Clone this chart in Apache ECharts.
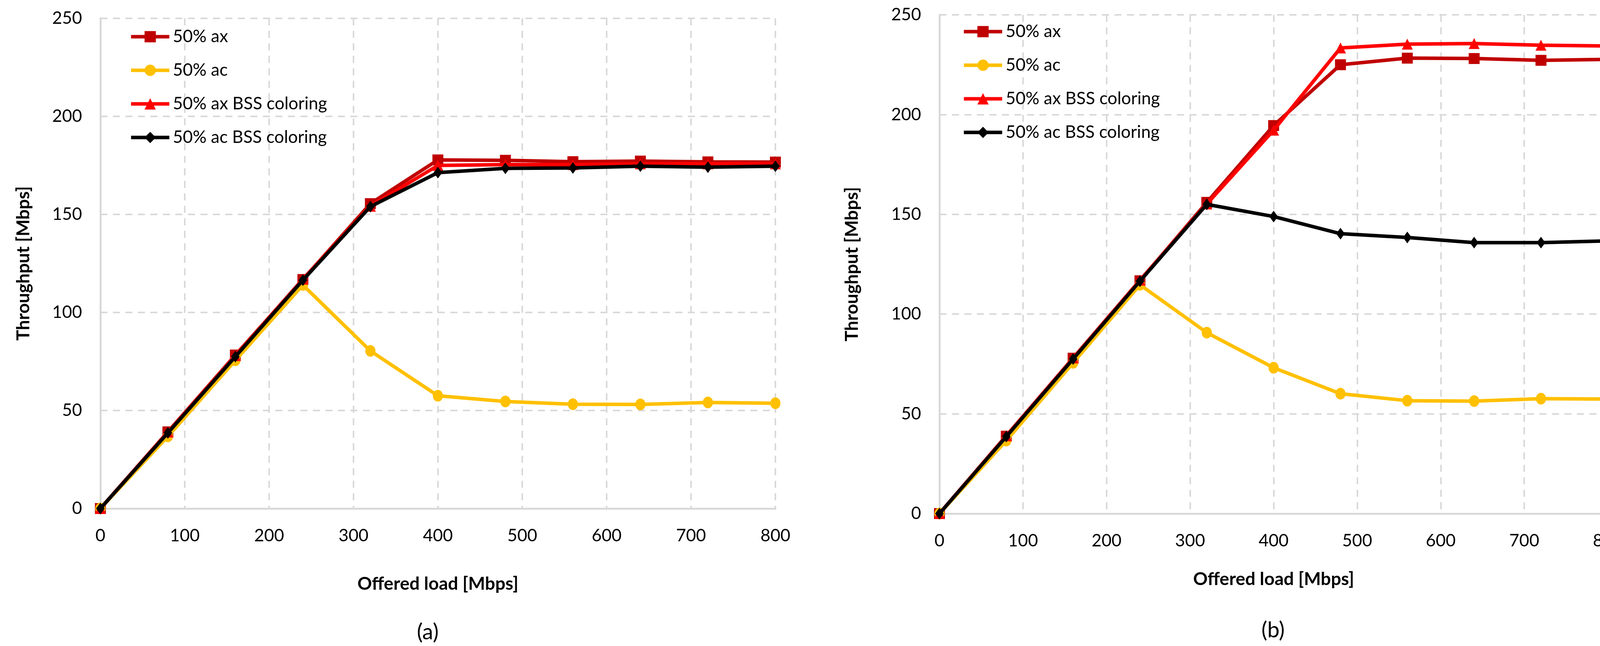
<!DOCTYPE html>
<html>
<head>
<meta charset="utf-8">
<script src="https://cdn.jsdelivr.net/npm/echarts@6/dist/echarts.min.js"></script>
<style>
html,body{margin:0;padding:0;background:#fff;}
#c{width:4194px;height:1654px;}
</style>
</head>
<body>
<div id="c"></div>
<script>
// ---- data ----
const offeredLoad = [0, 80, 160, 240, 320, 400, 480, 560, 640, 720, 800];
const seriesNames = ['50% ax', '50% ac', '50% ax BSS coloring', '50% ac BSS coloring'];
const xTicks = [0, 100, 200, 300, 400, 500, 600, 700, 800];
const yTicks = [0, 50, 100, 150, 200, 250];

// (a)
const a_ax     = [0, 39.1, 78.3, 116.8, 155.5, 177.8, 177.6, 176.9, 177.2, 176.8, 176.7];
const a_ac     = [0, 36.8, 75.6, 114.0, 80.4, 57.5, 54.6, 53.2, 53.1, 54.1, 53.7];
const a_axBSS  = [0, 39.0, 78.0, 117.0, 154.2, 175.0, 175.4, 175.4, 175.8, 175.8, 175.8];
const a_acBSS  = [0, 38.6, 77.5, 116.5, 154.0, 171.3, 173.5, 173.7, 174.6, 174.1, 174.6];
// (b)
const b_ax     = [0, 38.8, 77.9, 116.7, 156.0, 194.5, 225.0, 228.3, 228.1, 227.2, 227.7];
const b_ac     = [0, 36.6, 75.6, 114.7, 90.7, 73.1, 60.1, 56.6, 56.4, 57.6, 57.4];
const b_axBSS  = [0, 39.0, 78.0, 117.0, 155.2, 192.2, 233.4, 235.3, 235.6, 234.8, 234.4];
const b_acBSS  = [0, 38.6, 77.5, 116.5, 155.0, 148.9, 140.3, 138.4, 135.8, 135.8, 136.7];

const panelLabels = ['(a)', '(b)'];

// ---- styles ----
const FONT = 'Lato';
const colors = ['#C00000', '#FFC000', '#FF0000', '#000000'];
const symbols = ['rect', 'circle', 'triangle', 'diamond'];
const symbolSizes = [[28, 28], [26, 30], [28, 28], [22, 30]];
const LINE_W = 9;

function pairs(ys) { return offeredLoad.map((x, i) => [x, ys[i]]); }

const panels = [
  { data: [a_ax, a_ac, a_axBSS, a_acBSS], grid: { left: 257, top: 47, width: 1728, height: 1255 },
    xNameGap: 170, yNameGap: 174, legend: { left: 326, top: 67 }, label: { x: 1095, y: 1619 } },
  { data: [b_ax, b_ac, b_axBSS, b_acBSS], grid: { left: 2405, top: 38, width: 1711, height: 1277 },
    xNameGap: 145, yNameGap: 201, legend: { left: 2458, top: 54 }, label: { x: 3259, y: 1614 } }
];

const gridLine = { color: '#d9d9d9', width: 4, type: [18, 14] };
const axisLine = { show: true, lineStyle: { color: '#d9d9d9', width: 5 } };

const option = {
  animation: false,
  backgroundColor: '#fff',
  textStyle: { fontFamily: FONT },
  grid: panels.map(p => Object.assign({ containLabel: false }, p.grid)),
  xAxis: panels.map((p, i) => ({
    type: 'value', gridIndex: i, min: xTicks[0], max: xTicks[xTicks.length - 1], interval: 100,
    name: 'Offered load [Mbps]', nameLocation: 'middle', nameGap: p.xNameGap,
    nameTextStyle: { fontFamily: FONT, fontWeight: 'bold', fontSize: 46, color: '#000' },
    axisLine: axisLine, axisTick: { show: false },
    axisLabel: { fontFamily: FONT, fontSize: 44, color: '#000', margin: 48 },
    splitLine: { show: true, lineStyle: gridLine }
  })),
  yAxis: panels.map((p, i) => ({
    type: 'value', gridIndex: i, min: yTicks[0], max: yTicks[yTicks.length - 1], interval: 50,
    name: 'Throughput [Mbps]', nameLocation: 'middle', nameGap: p.yNameGap,
    nameTextStyle: { fontFamily: FONT, fontWeight: 'bold', fontSize: 46, color: '#000' },
    axisLine: axisLine, axisTick: { show: false },
    axisLabel: { fontFamily: FONT, fontSize: 44, color: '#000', margin: 47 },
    splitLine: { show: true, lineStyle: gridLine }
  })),
  legend: panels.map(p => ({
    orient: 'vertical', left: p.legend.left, top: p.legend.top,
    itemWidth: 98, itemHeight: 36, itemGap: 42,
    data: seriesNames,
    lineStyle: { width: LINE_W },
    textStyle: { fontFamily: FONT, fontSize: 44, color: '#000', padding: [0, 0, 0, 4] }
  })),
  graphic: panels.map((p, i) => ({
    type: 'text', x: p.label.x, y: p.label.y,
    style: { text: panelLabels[i], font: '56px ' + FONT, fill: '#000', textAlign: 'center', textVerticalAlign: 'middle' }
  })),
  series: []
};

panels.forEach((p, pi) => {
  p.data.forEach((ys, si) => {
    option.series.push({
      type: 'line', name: seriesNames[si], xAxisIndex: pi, yAxisIndex: pi,
      data: pairs(ys),
      symbol: symbols[si], symbolSize: symbolSizes[si], showAllSymbol: true,
      lineStyle: { color: colors[si], width: LINE_W },
      itemStyle: { color: colors[si] },
      z: 2 + si
    });
  });
});

const chart = echarts.init(document.getElementById('c'), null, { renderer: 'canvas' });
chart.setOption(option);
</script>
</body>
</html>
